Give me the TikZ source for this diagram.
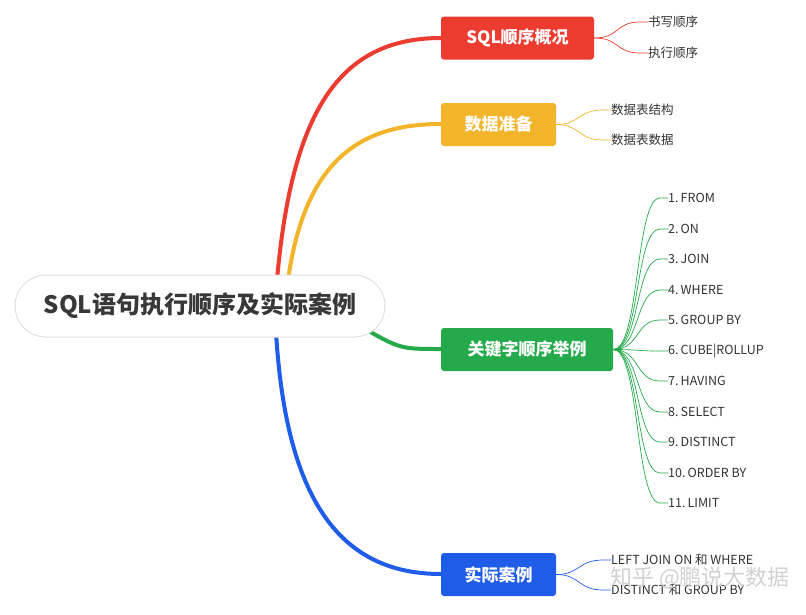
\documentclass[tikz,border=0pt]{standalone}
\usepackage{fontspec}
\setmainfont{Noto Sans CJK SC}
\begin{document}
\begin{tikzpicture}[x=1pt,y=-1pt,
  topic/.style={rounded corners=3pt,text=white,font=\fontsize{17}{20}\selectfont\bfseries,inner sep=0pt,anchor=center},
  leaf/.style={anchor=west,inner sep=0pt,text=black!80,font=\fontsize{12.5}{14}\selectfont},
  br/.style={line width=4pt,line cap=round},
  tw/.style={line width=0.7pt}]
\definecolor{cr}{HTML}{EC3B2F}\definecolor{co}{HTML}{F2B42B}
\definecolor{cg}{HTML}{25AA4B}\definecolor{cb}{HTML}{1F5CE8}
\useasboundingbox (0,0) rectangle (806,614);
\fill[white] (0,0) rectangle (806,614);
% branches
\draw[br,cr] (277,280) .. controls (292,110) and (340,38) .. (441,38);
\draw[br,co] (288,280) .. controls (305,160) and (360,124) .. (441,124);
\draw[br,cg] (360,326) .. controls (400,349) .. (441,349);
\draw[br,cb] (276,332) .. controls (286,500) and (340,574) .. (441,574);
% root
\node[draw=black!12,line width=1pt,fill=white,rounded corners=31pt,minimum width=370pt,minimum height=62pt,font=\fontsize{24}{28}\selectfont\bfseries,text=black!78] (root) at (200,306) {SQL语句执行顺序及实际案例};
% topics
\node[topic,fill=cr,minimum width=153pt,minimum height=43pt] (t1) at (517.5,38) {SQL顺序概况};
\node[topic,fill=co,minimum width=115pt,minimum height=43pt] (t2) at (498.5,124.5) {数据准备};
\node[topic,fill=cg,minimum width=172pt,minimum height=43pt] (t3) at (527,349.5) {关键字顺序举例};
\node[topic,fill=cb,minimum width=115pt,minimum height=43pt] (t4) at (498.5,574.5) {实际案例};
% leaves
\node[leaf] (a1) at (648,22) {书写顺序};
\node[leaf] (a2) at (648,53) {执行顺序};
\foreach \n/\y in {a1/22,a2/53}
  \draw[tw,cr] (t1.east) .. controls (620,38) and (615,\y) .. (640,\y) -- (\n.west);
\node[leaf] (b1) at (611,110) {数据表结构};
\node[leaf] (b2) at (611,140) {数据表数据};
\foreach \n/\y in {b1/110,b2/140}
  \draw[tw,co] (t2.east) .. controls (580,124.5) and (578,\y) .. (603,\y) -- (\n.west);
\foreach \i/\y/\t in {1/198/1.\,FROM,2/229/2.\,ON,3/259/3.\,JOIN,4/290/4.\,WHERE,5/320/5.\,GROUP BY,6/351/6.\,CUBE|ROLLUP,7/381/7.\,HAVING,8/412/8.\,SELECT,9/442/9.\,DISTINCT,10/473/10.\,ORDER BY,11/503/11.\,LIMIT}{
  \node[leaf] (c\i) at (668,\y) {\t};
  \draw[tw,cg] (t3.east) .. controls (640,349.5) and (635,\y) .. (660,\y) -- (c\i.west);
}
\node[leaf] (d1) at (611,560) {LEFT JOIN ON 和 WHERE};
\node[leaf] (d2) at (611,590) {DISTINCT 和 GROUP BY};
\foreach \n/\y in {d1/560,d2/590}
  \draw[tw,cb] (t4.east) .. controls (580,574.5) and (578,\y) .. (603,\y) -- (\n.west);
\node[text=black!18,font=\fontsize{22}{24}\selectfont,inner sep=0pt] (wm) at (700,578) {知乎 @鹏说大数据};
\end{tikzpicture}
\end{document}
